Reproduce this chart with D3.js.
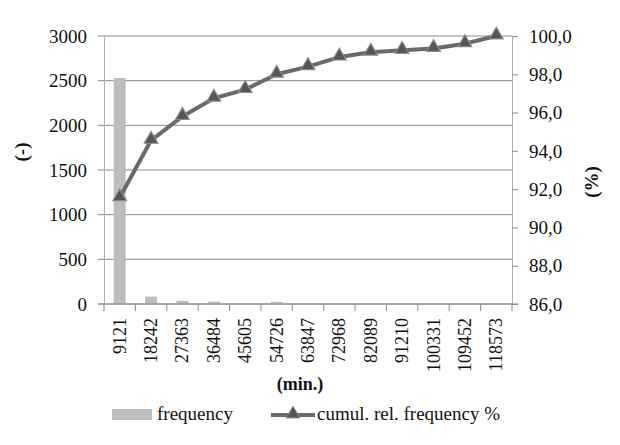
<!DOCTYPE html>
<html><head><meta charset="utf-8">
<script src="https://cdn.jsdelivr.net/npm/d3@7"></script>
<style>body{margin:0;background:#fff}svg{display:block} svg text{font-family:'Liberation Serif', serif;}</style>
</head><body><svg id="c" width="620" height="445"></svg>
<script>
const categories = ["9121","18242","27363","36484","45605","54726","63847","72968","82089","91210","100331","109452","118573"];
const frequency = [2530, 83, 36, 27, 0, 24, 0, 0, 0, 0, 0, 0, 0];
const cumulPct = [91.55, 94.55, 95.8, 96.75, 97.2, 98.0, 98.4, 98.9, 99.15, 99.25, 99.35, 99.6, 100.0];
const leftTicks = [0, 500, 1000, 1500, 2000, 2500, 3000];
const rightTicks = [86, 88, 90, 92, 94, 96, 98, 100];

const svg = d3.select("#c");
const L = 104, R = 512, T = 36, B = 304;
const x = d3.scaleBand().domain(categories).range([L, R]).paddingInner(0.62).paddingOuter(0.31);
const xb = d3.scaleBand().domain(categories).range([L, R]);
const yL = d3.scaleLinear().domain([0, 3000]).range([B, T]);
const yR = d3.scaleLinear().domain([86, 100]).range([B, T]);

svg.append("g").selectAll("line").data(leftTicks).join("line")
  .attr("x1", L - 6).attr("x2", R).attr("y1", d => yL(d)).attr("y2", d => yL(d))
  .attr("stroke", "#8a8a8a").attr("stroke-width", 1);

const gl = svg.append("g").attr("transform", `translate(${L},0)`)
  .call(d3.axisLeft(yL).tickValues(leftTicks).tickSize(0).tickPadding(17).tickFormat(d3.format("d")));
gl.attr("font-family", null);
gl.select(".domain").attr("stroke", "#b0b0b0");
gl.selectAll("text").attr("font-size", 19).attr("fill", "#111").attr("dy", "0.33em");

const gr = svg.append("g").attr("transform", `translate(${R},0)`)
  .call(d3.axisRight(yR).tickValues(rightTicks).tickSize(6).tickPadding(11).tickFormat(d => d3.format(".1f")(d).replace(".", ",")));
gr.attr("font-family", null);
gr.select(".domain").attr("stroke", "#b0b0b0");
gr.selectAll(".tick line").attr("stroke", "#8a8a8a");
gr.selectAll("text").attr("font-size", 19).attr("fill", "#111").attr("dy", "0.33em");

svg.append("g").selectAll("rect").data(frequency).join("rect")
  .attr("x", (d, i) => x(categories[i])).attr("width", x.bandwidth())
  .attr("y", d => yL(d)).attr("height", d => B - yL(d))
  .attr("fill", "#bdbdbd");

const gx = svg.append("g").attr("transform", `translate(0,${B})`);
gx.append("line").attr("x1", L - 6).attr("x2", R + 6).attr("stroke", "#8a8a8a");
gx.selectAll("line.t").data(d3.range(categories.length + 1)).join("line").attr("class", "t")
  .attr("x1", i => L + i * xb.step()).attr("x2", i => L + i * xb.step())
  .attr("y1", 0).attr("y2", 7).attr("stroke", "#8a8a8a");
gx.selectAll("text").data(categories).join("text")
  .attr("transform", d => `translate(${xb(d) + xb.bandwidth() / 2 + 6},14) rotate(-90)`)
  .attr("text-anchor", "end").attr("font-size", 18).attr("fill", "#111").text(d => d);

const line = d3.line().x((d, i) => xb(categories[i]) + xb.bandwidth() / 2).y(d => yR(d));
svg.append("path").datum(cumulPct).attr("d", line).attr("fill", "none")
  .attr("stroke", "#6a6a6a").attr("stroke-width", 4).attr("stroke-linejoin", "round");
const tri = d3.symbol().type(d3.symbolTriangle).size(80);
svg.append("g").selectAll("path").data(cumulPct).join("path")
  .attr("d", tri).attr("transform", (d, i) => `translate(${xb(categories[i]) + xb.bandwidth() / 2},${yR(d) - 1})`)
  .attr("fill", "#555").attr("stroke", "#8a8a8a").attr("stroke-width", 1.2);

function txt(xp, yp, s, size, bold, rot, anchor) {
  svg.append("text").attr("transform", `translate(${xp},${yp})` + (rot ? " rotate(-90)" : ""))
    .attr("text-anchor", anchor || "middle").attr("font-size", size)
    .attr("font-weight", bold ? "bold" : "normal").attr("fill", "#111").text(s);
}
txt(28, 152, "(-)", 19, true, true);
txt(598, 182, "(%)", 19, true, true);
txt(300, 390, "(min.)", 18, true, false);

svg.append("rect").attr("x", 112).attr("y", 409).attr("width", 40).attr("height", 11).attr("fill", "#bdbdbd");
txt(157, 420, "frequency", 19, false, false, "start");
svg.append("line").attr("x1", 271).attr("x2", 315).attr("y1", 415).attr("y2", 415).attr("stroke", "#6a6a6a").attr("stroke-width", 4);
svg.append("path").attr("d", tri).attr("transform", "translate(293,414)").attr("fill", "#555").attr("stroke", "#8a8a8a");
txt(317, 420, "cumul. rel. frequency %", 19, false, false, "start");
</script></body></html>
